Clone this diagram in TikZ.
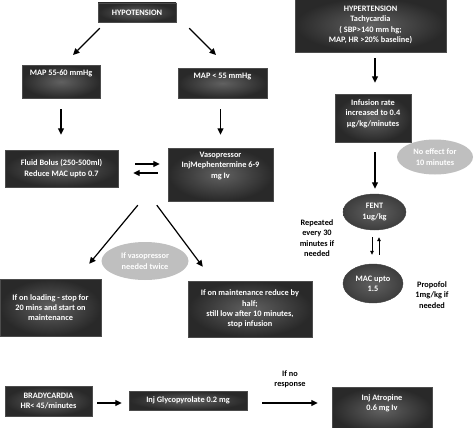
\documentclass[tikz,border=0pt]{standalone}
\usepackage{fontspec}
\setmainfont{Carlito}
\usetikzlibrary{arrows.meta,shapes.geometric}

\begin{document}
\begin{tikzpicture}[x=1pt, y=-1pt,
    box/.style={rectangle, draw=black!70, thin, inner color=black!62, outer color=black!84,
        text=white, font=\bfseries\fontsize{8.3}{10.3}\selectfont, align=center, inner sep=2pt},
    blob/.style={ellipse, draw=black!75, thin, inner color=black!62, outer color=black!76,
        text=white, font=\bfseries\fontsize{8.3}{10.3}\selectfont, align=center, inner sep=0pt},
    soft/.style={ellipse, fill=black!25, text=white, font=\bfseries\fontsize{8.3}{10.3}\selectfont,
        align=center, inner sep=0pt},
    note/.style={font=\bfseries\fontsize{8.3}{10.3}\selectfont, align=center},
    arr/.style={line width=1.2pt, -{Triangle[length=6.5pt, width=6pt]}},
    thinarr/.style={line width=0.7pt, -{Triangle[length=4pt, width=3.5pt]}}]

    \useasboundingbox (0,0) rectangle (474,428);

    % Hypotension
    \node[box, minimum width=78pt, minimum height=19pt] (hypo) at (137,12.5) {HYPOTENSION};
    \node[box, anchor=north, minimum width=78pt, text height=6pt, text depth=19pt, inner ysep=4pt] (mapa) at (61,65) {MAP 55-60 mmHg};
    \node[box, anchor=north, minimum width=89pt, text height=6pt, text depth=16pt, inner ysep=4pt] (mapb) at (222.5,68) {MAP < 55 mmHg};
    \node[box, minimum width=113pt, minimum height=37pt] (fluid) at (61.5,168.5) {Fluid Bolus (250-500ml)\\Reduce MAC upto 0.7};
    \node[box, minimum width=105pt, minimum height=53pt] (vaso) at (220.5,174.5) {};
    \node[note, text=white] (vasotext) at (220.5,166) {Vasopressor\\InjMephentermine 6-9\\mg Iv};
    \node[soft, minimum width=87pt, minimum height=38pt] (twice) at (145,261) {If vasopressor\\needed twice};
    \node[box, minimum width=101pt, minimum height=57pt] (loading) at (50.5,307.5) {If on loading - stop for\\20 mins and start on\\maintenance};
    \node[box, minimum width=124pt, minimum height=56pt] (maint) at (250,309) {If on maintenance reduce by\\half;\\still low after 10 minutes,\\stop infusion};

    \draw[arr] ([shift={(2,6)}]hypo.south west) -- ([shift={(12,-10)}]mapa.north);
    \draw[arr] ([shift={(13,6)}]hypo.south east) -- ([shift={(-6.5,-13)}]mapb.north);
    \draw[arr, shorten <=11pt, shorten >=15pt] (mapa.south) -- (mapa.south |- fluid.north);
    \draw[arr, shorten <=11pt, shorten >=13pt] ([xshift=-2pt]mapb.south) -- ([xshift=-2pt]mapb.south |- vaso.north);
    \draw[arr, shorten <=17pt, shorten >=8pt] ([yshift=4.5pt]fluid.east) -- ([yshift=4.5pt]fluid.east -| vaso.west);
    \draw[arr, shorten <=10pt, shorten >=15pt] ([yshift=-4.5pt]fluid.east -| vaso.west) -- ([yshift=-4.5pt]fluid.east);
    \draw[arr] ([shift={(-30,4)}]vaso.south west) -- ([shift={(-12,-15)}]loading.north east);
    \draw[arr] ([shift={(-11,4)}]vaso.south west) -- ([shift={(15,-14)}]maint.north west);

    % Hypertension
    \node[box, minimum width=151pt, minimum height=54pt] (hyper) at (370.5,25) {HYPERTENSION\\Tachycardia\\( SBP>140 mm hg;\\MAP, HR >20\% baseline)};
    \node[box, minimum width=76pt, minimum height=48pt] (infus) at (373,118) {};
    \node[note, text=white] (infustext) at (373,113.5) {Infusion rate\\increased to 0.4\\µg/kg/minutes};
    \node[soft, minimum width=76pt, minimum height=35pt] (noeff) at (435,157) {No effect for\\10 minutes};
    \node[blob, minimum width=63pt, minimum height=36pt] (fent) at (374.5,212) {FENT\\1ug/kg};
    \node[blob, minimum width=60pt, minimum height=39pt] (mac) at (373,283.5) {MAC upto\\1.5};
    \node[note] (repeat) at (317,238) {Repeated\\every 30\\minutes if\\needed};
    \node[note] (propofol) at (432,295) {Propofol\\1mg/kg if\\needed};

    \draw[arr, shorten <=6pt, shorten >=11pt] ([xshift=4.5pt]hyper.south) -- ([xshift=2pt]infus.north);
    \draw[arr, shorten <=10pt, shorten >=5pt] ([xshift=2pt]infus.south) -- ([xshift=0.5pt]fent.north);
    \draw[thinarr] ([shift={(-2.5,7)}]fent.south) -- ([shift={(-2.5,-9)}]fent.south |- mac.north);
    \draw[thinarr] ([shift={(4.5,-9)}]fent.south |- mac.north) -- ([shift={(4.5,7)}]fent.south);

    % Bradycardia
    \node[box, minimum width=87pt, minimum height=30pt] (brady) at (48.5,401) {BRADYCARDIA\\HR< 45/minutes};
    \node[box, minimum width=118pt, minimum height=19pt] (glyco) at (188,400.5) {Inj Glycopyrolate 0.2 mg};
    \node[box, minimum width=100pt, minimum height=46pt] (atro) at (382,410) {};
    \node[note, text=white] (atrotext) at (382,403.5) {Inj Atropine\\0.6 mg Iv};
    \node[note] (noresp) at (290,379) {If no\\response};

    \draw[arr, shorten <=5pt, shorten >=7pt] ([yshift=-2pt]brady.east) -- ([yshift=-2pt]brady.east -| glyco.west);
    \draw[arr, shorten <=15pt, shorten >=14pt] ([yshift=-2.5pt]glyco.east) -- ([yshift=-2.5pt]glyco.east -| atro.west);

\end{tikzpicture}
\end{document}
